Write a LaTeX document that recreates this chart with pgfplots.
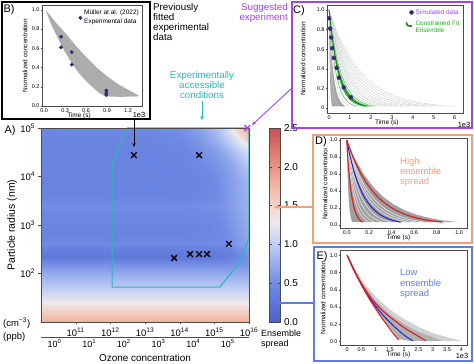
\documentclass[border=0pt]{standalone}
\usepackage{fontspec}
\setmainfont{Liberation Sans}
\usepackage{pgfplots}
\usepackage{pgfplotstable}
\pgfplotsset{compat=1.18}
\usetikzlibrary{arrows.meta}

\definecolor{cyanl}{RGB}{40,185,185}
\definecolor{purp}{RGB}{160,70,230}
\definecolor{orng}{RGB}{242,160,120}
\definecolor{blu}{RGB}{95,125,225}
\definecolor{navy}{RGB}{50,45,115}
\definecolor{grn}{RGB}{40,170,40}
\definecolor{frm}{RGB}{75,75,75}
\definecolor{rd}{RGB}{215,30,35}
\definecolor{bl}{RGB}{35,35,210}

\pgfplotsset{/pgf/number format/assume math mode=true}
\pgfplotsset{
 inset/.style={scale only axis, anchor=south west,
   axis line style={frm, line width=0.6pt},
   tick style={frm, line width=0.4pt},
   tick align=outside, major tick length=1.5bp, tick pos=left,
   ticklabel style={font=\fontsize{5.5}{6}\selectfont, inner sep=0.8pt},
   label style={font=\fontsize{6.5}{7.5}\selectfont, inner sep=0.5pt},
   legend cell align=left,
   legend style={draw=none, fill=none, font=\fontsize{6.5}{7.2}\selectfont, inner sep=0pt},
 }
}

% time (t) at which each decay curve reaches concentration level y
\pgfplotstableread{
y t015 t03 t05 t08 t10 t13 t16 t18 t20 t22 t25 t30 t35 t42 t50 t55 t60 t27 t32 t38 t46
1 0 0 0 0 0 0 0 0 0 0 0 0 0 0 0 0 0 0 0 0 0
0.8 0.0084 0.0168 0.028 0.0448 0.056 0.0728 0.0896 0.1008 0.112 0.1232 0.14 0.168 0.196 0.2352 0.28 0.308 0.336 0.1512 0.1792 0.2128 0.2576
0.6 0.0192 0.0384 0.064 0.1024 0.128 0.1664 0.2048 0.2304 0.256 0.2816 0.32 0.384 0.448 0.5376 0.64 0.704 0.768 0.3456 0.4096 0.4864 0.5888
0.45 0.03 0.06 0.1 0.16 0.2 0.26 0.32 0.36 0.4 0.44 0.5 0.6 0.7 0.84 1.0 1.1 1.2 0.54 0.64 0.76 0.92
0.33 0.0416 0.0831 0.1385 0.2216 0.277 0.3601 0.4432 0.4986 0.554 0.6094 0.6925 0.831 0.9695 1.1634 1.385 1.5235 1.662 0.7479 0.8864 1.0526 1.2742
0.24 0.0536 0.1071 0.1785 0.2856 0.357 0.4641 0.5712 0.6426 0.714 0.7854 0.8925 1.071 1.2495 1.4994 1.785 1.9635 2.142 0.9639 1.1424 1.3566 1.6422
0.17 0.0665 0.1329 0.2215 0.3544 0.443 0.5759 0.7088 0.7974 0.886 0.9746 1.1075 1.329 1.5505 1.8606 2.215 2.4365 2.658 1.1961 1.4176 1.6834 2.0378
0.12 0.0795 0.159 0.265 0.424 0.53 0.689 0.848 0.954 1.06 1.166 1.325 1.59 1.855 2.226 2.65 2.915 3.18 1.431 1.696 2.014 2.438
0.08 0.0947 0.1893 0.3155 0.5048 0.631 0.8203 1.0096 1.1358 1.262 1.3882 1.5775 1.893 2.2085 2.6502 3.155 3.4705 3.786 1.7037 2.0192 2.3978 2.9026
0.05 0.1124 0.2247 0.3745 0.5992 0.749 0.9737 1.1984 1.3482 1.498 1.6478 1.8725 2.247 2.6215 3.1458 3.745 4.1195 4.494 2.0223 2.3968 2.8462 3.4454
0.03 0.1316 0.2631 0.4385 0.7016 0.877 1.1401 1.4032 1.5786 1.754 1.9294 2.1925 2.631 3.0695 3.6834 4.385 4.8235 5.262 2.3679 2.8064 3.3326 4.0342
0.018 0.15 0.3 0.5 0.8 1.0 1.3 1.6 1.8 2.0 2.2 2.5 3.0 3.5 4.2 5.0 5.5 6.0 2.7 3.2 3.8 4.6
}\Ctab

\pgfplotstableread{
y d005 d014 d020 d025 d032 d040 d048 d055 d062 d070 d085 d100
1 0 0 0 0 0 0 0 0 0 0 0 0
0.8 0.0033 0.0092 0.0131 0.0164 0.021 0.0262 0.0315 0.0361 0.0407 0.0459 0.0558 0.0656
0.6 0.0075 0.021 0.03 0.0375 0.048 0.06 0.072 0.0825 0.093 0.105 0.128 0.15
0.45 0.0118 0.0329 0.047 0.0588 0.075 0.094 0.113 0.129 0.146 0.165 0.2 0.235
0.33 0.0163 0.0456 0.0652 0.0815 0.104 0.13 0.156 0.179 0.202 0.228 0.277 0.326
0.24 0.021 0.0588 0.084 0.105 0.134 0.168 0.202 0.231 0.26 0.294 0.357 0.42
0.17 0.026 0.0729 0.104 0.13 0.167 0.208 0.25 0.287 0.323 0.365 0.443 0.521
0.12 0.0312 0.0874 0.125 0.156 0.2 0.25 0.3 0.343 0.387 0.437 0.53 0.624
0.08 0.0372 0.104 0.149 0.186 0.238 0.297 0.357 0.409 0.461 0.52 0.632 0.743
0.055 0.0427 0.119 0.171 0.213 0.273 0.341 0.409 0.469 0.529 0.597 0.725 0.853
0.033 0.05 0.14 0.2 0.25 0.32 0.4 0.48 0.55 0.62 0.7 0.85 1.0
}\Dtab

\begin{document}
\begin{tikzpicture}
\useasboundingbox (0,0) rectangle (474bp,364bp);

% ---------- panel A: heat map ----------
\begin{axis}[name=main, at={(41bp,42bp)}, anchor=south west, scale only axis,
  width=208bp, height=194bp, xmin=10, xmax=16, ymin=1, ymax=5,
  view={0}{90}, clip=false, axis on top,
  axis line style={frm, line width=0.6pt}, tick style={frm},
  colormap={cw}{rgb255(0cm)=(75,95,205); rgb255(5cm)=(112,140,228); rgb255(10cm)=(192,206,245); rgb255(13cm)=(238,234,236); rgb255(17cm)=(242,190,170); rgb255(21cm)=(226,135,122); rgb255(25cm)=(200,80,85)},
  point meta min=0, point meta max=2.5,
  colorbar,
  colorbar style={at={(parent axis.north east)}, anchor=north west, xshift=12bp,
     width=11bp, scale only axis, ytick={0,0.5,1,1.5,2,2.5},
     yticklabel style={font=\fontsize{10}{12}\selectfont, /pgf/number format/.cd, fixed, fixed zerofill, precision=1},
     axis line style={frm, line width=0.6pt}, major tick length=2.5bp, tick style={frm}},
  xtick={11,12,13,14,15,16},
  xticklabels={10\textsuperscript{11},10\textsuperscript{12},10\textsuperscript{13},10\textsuperscript{14},10\textsuperscript{15},10\textsuperscript{16}},
  ytick={2,3,4,5},
  yticklabels={10\textsuperscript{2},10\textsuperscript{3},10\textsuperscript{4},10\textsuperscript{5}},
  tick pos=left, tick align=outside, major tick length=2.5bp,
  ticklabel style={font=\fontsize{9.5}{11}\selectfont},
  ylabel={Particle radius (nm)},
  ylabel style={font=\fontsize{10.5}{12}\selectfont, at={(axis description cs:-0.139,0.5)}, anchor=center},
]
\addplot3[surf, shader=interp, mesh/cols=9] table[row sep=\\] {
x y z\\
10 1 1.8\\ 13 1 1.8\\ 14 1 1.8\\ 14.5 1 1.8\\ 15 1 1.8\\ 15.25 1 1.8\\ 15.5 1 1.8\\ 15.75 1 1.8\\ 16 1 1.8\\
10 1.25 1.5\\ 13 1.25 1.5\\ 14 1.25 1.5\\ 14.5 1.25 1.5\\ 15 1.25 1.5\\ 15.25 1.25 1.5\\ 15.5 1.25 1.5\\ 15.75 1.25 1.5\\ 16 1.25 1.5\\
10 1.5 1.2\\ 13 1.5 1.2\\ 14 1.5 1.2\\ 14.5 1.5 1.2\\ 15 1.5 1.2\\ 15.25 1.5 1.2\\ 15.5 1.5 1.2\\ 15.75 1.5 1.2\\ 16 1.5 1.2\\
10 1.75 0.95\\ 13 1.75 0.95\\ 14 1.75 0.95\\ 14.5 1.75 0.95\\ 15 1.75 0.95\\ 15.25 1.75 0.95\\ 15.5 1.75 0.95\\ 15.75 1.75 0.95\\ 16 1.75 0.95\\
10 2 0.72\\ 13 2 0.72\\ 14 2 0.72\\ 14.5 2 0.72\\ 15 2 0.72\\ 15.25 2 0.72\\ 15.5 2 0.72\\ 15.75 2 0.72\\ 16 2 0.72\\
10 2.2 0.52\\ 13 2.2 0.52\\ 14 2.2 0.52\\ 14.5 2.2 0.52\\ 15 2.2 0.52\\ 15.25 2.2 0.52\\ 15.5 2.2 0.54\\ 15.75 2.2 0.56\\ 16 2.2 0.58\\
10 2.35 0.28\\ 13 2.35 0.28\\ 14 2.35 0.28\\ 14.5 2.35 0.28\\ 15 2.35 0.3\\ 15.25 2.35 0.33\\ 15.5 2.35 0.38\\ 15.75 2.35 0.46\\ 16 2.35 0.55\\
10 2.45 0.32\\ 13 2.45 0.32\\ 14 2.45 0.32\\ 14.5 2.45 0.32\\ 15 2.45 0.33\\ 15.25 2.45 0.36\\ 15.5 2.45 0.41\\ 15.75 2.45 0.5\\ 16 2.45 0.6\\
10 2.6 0.48\\ 13 2.6 0.48\\ 14 2.6 0.48\\ 14.5 2.6 0.48\\ 15 2.6 0.49\\ 15.25 2.6 0.51\\ 15.5 2.6 0.55\\ 15.75 2.6 0.62\\ 16 2.6 0.68\\
10 2.8 0.42\\ 13 2.8 0.42\\ 14 2.8 0.42\\ 14.5 2.8 0.43\\ 15 2.8 0.45\\ 15.25 2.8 0.48\\ 15.5 2.8 0.55\\ 15.75 2.8 0.64\\ 16 2.8 0.72\\
10 3 0.42\\ 13 3 0.42\\ 14 3 0.42\\ 14.5 3 0.43\\ 15 3 0.46\\ 15.25 3 0.5\\ 15.5 3 0.58\\ 15.75 3 0.67\\ 16 3 0.75\\
10 3.25 0.46\\ 13 3.25 0.46\\ 14 3.25 0.46\\ 14.5 3.25 0.47\\ 15 3.25 0.5\\ 15.25 3.25 0.54\\ 15.5 3.25 0.62\\ 15.75 3.25 0.7\\ 16 3.25 0.77\\
10 3.4 0.5\\ 13 3.4 0.5\\ 14 3.4 0.5\\ 14.5 3.4 0.51\\ 15 3.4 0.53\\ 15.25 3.4 0.57\\ 15.5 3.4 0.64\\ 15.75 3.4 0.72\\ 16 3.4 0.78\\
10 3.6 0.42\\ 13 3.6 0.42\\ 14 3.6 0.42\\ 14.5 3.6 0.44\\ 15 3.6 0.48\\ 15.25 3.6 0.54\\ 15.5 3.6 0.63\\ 15.75 3.6 0.72\\ 16 3.6 0.79\\
10 3.8 0.4\\ 13 3.8 0.4\\ 14 3.8 0.41\\ 14.5 3.8 0.43\\ 15 3.8 0.48\\ 15.25 3.8 0.55\\ 15.5 3.8 0.64\\ 15.75 3.8 0.73\\ 16 3.8 0.81\\
10 4 0.4\\ 13 4 0.4\\ 14 4 0.41\\ 14.5 4 0.44\\ 15 4 0.5\\ 15.25 4 0.57\\ 15.5 4 0.66\\ 15.75 4 0.76\\ 16 4 0.85\\
10 4.25 0.4\\ 13 4.25 0.4\\ 14 4.25 0.42\\ 14.5 4.25 0.46\\ 15 4.25 0.55\\ 15.25 4.25 0.62\\ 15.5 4.25 0.72\\ 15.75 4.25 0.84\\ 16 4.25 0.97\\
10 4.5 0.4\\ 13 4.5 0.41\\ 14 4.5 0.44\\ 14.5 4.5 0.5\\ 15 4.5 0.62\\ 15.25 4.5 0.72\\ 15.5 4.5 0.85\\ 15.75 4.5 1.0\\ 16 4.5 1.15\\
10 4.75 0.42\\ 13 4.75 0.43\\ 14 4.75 0.48\\ 14.5 4.75 0.57\\ 15 4.75 0.75\\ 15.25 4.75 0.9\\ 15.5 4.75 1.08\\ 15.75 4.75 1.3\\ 16 4.75 1.55\\
10 5 0.45\\ 13 5 0.47\\ 14 5 0.53\\ 14.5 5 0.65\\ 15 5 0.85\\ 15.25 5 1.05\\ 15.5 5 1.3\\ 15.75 5 1.65\\ 16 5 2.05\\
};
\addplot[cyanl, line width=1.1pt] coordinates {(12.48,5)(16,5)(16,2.73)(15.74,2.24)(15.16,1.72)(12.05,1.72)(12.05,4.24)(12.48,5)};
\addplot[only marks, mark=x, mark size=4bp, line width=1.3pt, black] coordinates {(12.68,4.44)(14.56,4.44)(13.84,2.32)(14.30,2.40)(14.56,2.40)(14.79,2.40)(15.42,2.61)};
\addplot[only marks, mark=x, mark size=4.2bp, line width=1.4pt, purp] coordinates {(15.95,5)};
\end{axis}

% ---------- ppb axis ----------
\begin{axis}[at={(41bp,27bp)}, anchor=south west, scale only axis, width=208bp, height=4bp,
  xmin=-0.39, xmax=5.61, ymin=0, ymax=1,
  axis lines*=left, y axis line style={draw=none}, ytick=\empty,
  x axis line style={frm, line width=0.6pt}, tick style={frm},
  xtick={0,1,2,3,4,5},
  xticklabels={10\textsuperscript{0},10\textsuperscript{1},10\textsuperscript{2},10\textsuperscript{3},10\textsuperscript{4},10\textsuperscript{5}},
  tick align=outside, major tick length=1.5bp,
  ticklabel style={font=\fontsize{9}{10}\selectfont, inner sep=1pt},
  xlabel={Ozone concentration},
  xlabel style={font=\fontsize{10}{11}\selectfont, at={(axis description cs:0.5,0)}, anchor=center, yshift=-21bp},
]
\addplot[draw=none, forget plot] coordinates {(0,0.5)(5,0.5)};
\end{axis}

% ---------- panel B ----------
\begin{axis}[inset, at={(42bp,258bp)}, width=100bp, height=101bp,
  xmin=-0.03, xmax=1.4, ymin=0, ymax=1.05,
  xtick={0,0.3,0.6,0.9,1.2}, xticklabels={0.0,0.3,0.6,0.9,1.2},
  ytick={0,0.2,0.4,0.6,0.8,1}, yticklabels={0.0,0.2,0.4,0.6,0.8,1.0},
  xlabel={Time (s)}, ylabel={Normalized concentration},
  xlabel style={at={(axis description cs:0.37,0)}, anchor=north, yshift=-6.5bp},
  ylabel style={at={(axis description cs:-0.17,0.5)}, anchor=center},
  legend style={at={(axis description cs:0.99,0.97)}, anchor=north east},
]
\addlegendimage{only marks, mark=*, mark size=1.8bp, navy}
\addlegendentry{\shortstack[l]{Müller at al. (2022)\\Experimental data}}
\addplot[fill=gray!65, draw=none, forget plot] coordinates {(0.02,1.0)(0.1,0.93)(0.2,0.84)(0.3,0.76)(0.45,0.63)(0.6,0.51)(0.75,0.40)(0.9,0.31)(1.05,0.23)(1.2,0.17)(1.35,0.11)
  (1.35,0.1)(1.1,0.095)(0.88,0.1)(0.8,0.13)(0.7,0.19)(0.6,0.26)(0.5,0.34)(0.4,0.44)(0.3,0.56)(0.2,0.7)(0.1,0.85)(0.02,1.0)};
\addplot[only marks, mark=*, mark size=1.8bp, navy, forget plot] coordinates {(0.243,0.72)(0.243,0.61)(0.395,0.56)(0.395,0.43)(0.89,0.16)(0.89,0.135)(0.89,0.115)};
\end{axis}

% ---------- panel C ----------
\begin{axis}[inset, at={(327bp,251bp)}, width=136bp, height=108bp,
  xmin=-0.1, xmax=6.4, ymin=-0.05, ymax=1.05,
  xtick={0,1,2,3,4,5,6},
  ytick={0,0.2,0.4,0.6,0.8,1}, yticklabels={0,0.2,0.4,0.6,0.8,1.0},
  xlabel={Time (s)}, ylabel={Normalized concentration},
  xlabel style={at={(axis description cs:0.44,0)}, anchor=north, yshift=-6.5bp},
  ylabel style={at={(axis description cs:-0.176,0.5)}, anchor=center},
  legend style={at={(axis description cs:0.99,0.98)}, anchor=north east, row sep=1pt},
]
\addlegendimage{only marks, mark=*, mark size=2bp, navy}
\addlegendentry{\textcolor{purp}{Simulated data}}
\addlegendimage{legend image code/.code={\draw[grn!75!black, line width=1.6pt] (0.12cm,0.18cm) arc[start angle=180, end angle=290, radius=0.14cm];}}
\addlegendentry{\textcolor{grn}{\shortstack[l]{Constrained Fit\\Ensemble}}}
\addplot[fill=gray!70, draw=none, forget plot] coordinates {(0,1)(0.0448,0.8)(0.1024,0.6)(0.16,0.45)(0.2216,0.33)(0.2856,0.24)(0.3544,0.17)(0.424,0.12)(0.5048,0.08)(0.5992,0.05)(0.7016,0.03)(0.8,0.018)
  (0.15,0.018)(0.1316,0.03)(0.1124,0.05)(0.0947,0.08)(0.0795,0.12)(0.0665,0.17)(0.0536,0.24)(0.0416,0.33)(0.03,0.45)(0.0192,0.6)(0.0084,0.8)(0,1)};
\pgfplotsinvokeforeach{t03,t05,t10,t13,t16,t18,t20,t22,t25,t27,t30,t32,t35,t38,t42,t46,t50,t55,t60}{
  \addplot[gray!40, line width=0.35pt, smooth, forget plot] table[x=#1, y=y] {\Ctab};
}
\addplot[fill=grn, fill opacity=0.85, draw=none, forget plot] coordinates {(0,1)(0.112,0.8)(0.256,0.6)(0.4,0.45)(0.554,0.33)(0.714,0.24)(0.886,0.17)(1.06,0.12)(1.262,0.08)(1.498,0.05)(1.754,0.03)(2.0,0.018)
  (1.6,0.018)(1.4032,0.03)(1.1984,0.05)(1.0096,0.08)(0.848,0.12)(0.7088,0.17)(0.5712,0.24)(0.4432,0.33)(0.32,0.45)(0.2048,0.6)(0.0896,0.8)(0,1)};
\addplot[green!55!black!60, line width=0.5pt, smooth, forget plot] table[x=t13, y=y] {\Ctab};
\addplot[green!55!black!60, line width=0.5pt, smooth, forget plot] table[x=t22, y=y] {\Ctab};
\addplot[green!50!black, line width=0.6pt, smooth, forget plot] table[x=t18, y=y] {\Ctab};
\addplot[only marks, mark=*, mark size=2bp, navy, forget plot] coordinates {(0,0.915)(0.05,0.81)(0.1,0.72)(0.15,0.61)(0.23,0.51)(0.36,0.41)(0.47,0.31)(0.7,0.21)(1.04,0.11)};
\end{axis}

% ---------- panel D ----------
\begin{axis}[inset, at={(340bp,136bp)}, width=127bp, height=90bp,
  xmin=-0.06, xmax=1.07, ymin=-0.035, ymax=1.024,
  xtick={0,0.2,0.4,0.6,0.8,1}, xticklabels={0.0,0.2,0.4,0.6,0.8,1.0},
  ytick={0,0.2,0.4,0.6,0.8,1}, yticklabels={0.0,0.2,0.4,0.6,0.8,1.0},
  xlabel={Time (s)}, ylabel={Normalized concentration},
  xlabel style={at={(axis description cs:0.46,0)}, anchor=north, yshift=-6.5bp},
  ylabel style={at={(axis description cs:-0.118,0.5)}, anchor=center},
]
\addplot[fill=gray!75, draw=none] coordinates {(0,1)(0.0656,0.8)(0.15,0.6)(0.235,0.45)(0.326,0.33)(0.42,0.24)(0.521,0.17)(0.624,0.12)(0.743,0.08)(0.853,0.055)(1.0,0.033)
  (0.05,0.033)(0.0427,0.055)(0.0372,0.08)(0.0312,0.12)(0.026,0.17)(0.021,0.24)(0.0163,0.33)(0.0118,0.45)(0.0075,0.6)(0.0033,0.8)(0,1)};
\pgfplotsinvokeforeach{d020,d025,d032,d040,d055,d062,d070}{
  \addplot[gray!25, line width=0.7pt, smooth] table[x=#1, y=y] {\Dtab};
}
\addplot[bl, line width=1pt, smooth] table[x=d048, y=y] {\Dtab};
\addplot[rd, line width=1.1pt, smooth] table[x=d014, y=y] {\Dtab};
\addplot[rd, line width=1.1pt, smooth] table[x=d085, y=y] {\Dtab};
\end{axis}

% ---------- panel E ----------
\begin{axis}[inset, at={(340bp,19bp)}, width=127bp, height=95bp,
  xmin=-0.25, xmax=4.2, ymin=-0.04, ymax=1.06,
  xtick={0,0.5,1,1.5,2,2.5,3,3.5,4},
  ytick={0,0.2,0.4,0.6,0.8,1}, yticklabels={0.0,0.2,0.4,0.6,0.8,1.0},
  xlabel={Time (s)}, ylabel={Normalized concentration},
  xlabel style={at={(axis description cs:0.46,0)}, anchor=north, yshift=-6.5bp},
  ylabel style={at={(axis description cs:-0.134,0.5)}, anchor=center},
]
\addplot[fill=gray!35, draw=none] coordinates {(0,1)(0.3,0.82)(0.6,0.67)(1.0,0.52)(1.5,0.37)(2.0,0.26)(2.5,0.17)(3.0,0.1)(3.5,0.05)(4.0,0.01)
  (4.0,0.005)(3.0,0.006)(2.2,0.008)(1.8,0.03)(1.6,0.12)(1.3,0.25)(1.0,0.38)(0.6,0.58)(0.3,0.78)(0,1)};
\addplot[fill=gray!62, draw=none] coordinates {(0,1)(0.3,0.81)(0.6,0.64)(1.0,0.47)(1.5,0.31)(2.0,0.2)(2.5,0.11)(3.0,0.05)(3.3,0.01)
  (3.0,0.006)(2.2,0.008)(1.8,0.03)(1.6,0.12)(1.3,0.25)(1.0,0.38)(0.6,0.58)(0.3,0.78)(0,1)};
\addplot[bl, line width=1pt, smooth] coordinates {(0,1)(0.2,0.85)(0.4,0.72)(0.6,0.6)(0.8,0.5)(1.0,0.41)(1.3,0.29)(1.6,0.19)(1.9,0.1)(2.1,0.05)(2.3,0.01)};
\addplot[rd, line width=1.1pt, smooth] coordinates {(0,1)(0.2,0.85)(0.4,0.72)(0.6,0.6)(0.8,0.48)(1.0,0.38)(1.2,0.28)(1.4,0.19)(1.6,0.1)(1.8,0.02)};
\addplot[rd, line width=1.1pt, smooth] coordinates {(0,1)(0.2,0.86)(0.4,0.73)(0.6,0.62)(0.8,0.52)(1.0,0.44)(1.3,0.34)(1.6,0.26)(2.0,0.16)(2.4,0.08)(2.75,0.01)};
\end{axis}

% ---------- frames, connectors, annotations ----------
\draw[black, line width=1.3pt] (2bp,245bp) rectangle (150bp,362bp);
\draw[purp, line width=1.3pt] (292bp,236bp) rectangle (472bp,362bp);
\draw[orng, line width=1.3pt] (313bp,121bp) rectangle (472bp,229bp);
\draw[blu, line width=1.3pt] (314bp,3bp) rectangle (472bp,117bp);

\draw[black, line width=0.8pt, -{Stealth[length=4bp,width=3.5bp]}] (134bp,245bp) -- (134bp,217bp);
\draw[purp, line width=0.9pt, -{Stealth[length=4bp,width=3.5bp]}] (292bp,276bp) -- (252bp,239bp);
\draw[orng, line width=1.2pt, -{Stealth[length=4.5bp,width=4bp]}] (313bp,157bp) -- (274bp,157bp);
\draw[blu, line width=1.2pt, -{Stealth[length=4.5bp,width=4bp]}] (314bp,61bp) -- (274bp,61bp);
\draw[cyanl, line width=0.9pt, -{Stealth[length=4bp,width=3.5bp]}] (202bp,263bp) -- (202bp,244bp);

\node[anchor=center, font=\fontsize{11}{12}\selectfont] at (10bp,233bp) {A)};
\node[anchor=center, font=\fontsize{11}{12}\selectfont] at (9bp,354bp) {B)};
\node[anchor=center, font=\fontsize{11}{12}\selectfont] at (299bp,353bp) {C)};
\node[anchor=center, font=\fontsize{11}{12}\selectfont, fill=white, inner sep=0.5pt] at (321bp,222bp) {D)};
\node[anchor=center, font=\fontsize{11}{12}\selectfont] at (322bp,107bp) {E)};

\node[anchor=north west, align=left, font=\fontsize{9.8}{10}\selectfont, inner sep=0pt] at (153bp,361bp) {Previously\\fitted\\experimental\\data};
\node[anchor=north east, align=right, text=purp, font=\fontsize{9.8}{10}\selectfont, inner sep=0pt] at (288bp,361bp) {Suggested\\experiment};
\node[anchor=north, align=center, text=cyanl, font=\fontsize{9.8}{10}\selectfont, inner sep=0pt] at (202bp,293bp) {Experimentally\\accessible\\conditions};
\node[anchor=north west, align=left, text=orng, font=\fontsize{9.5}{10.5}\selectfont, inner sep=0pt] at (400bp,207bp) {High\\ensemble\\spread};
\node[anchor=north west, align=left, text=blu, font=\fontsize{9.5}{10.5}\selectfont, inner sep=0pt] at (400bp,95bp) {Low\\ensemble\\spread};
\node[anchor=north west, align=left, font=\fontsize{9}{10}\selectfont, inner sep=0pt] at (261bp,34bp) {Ensemble\\spread};
\node[anchor=west, font=\fontsize{9.5}{11}\selectfont, inner sep=0pt] at (3bp,41bp) {(cm\textsuperscript{−3})};
\node[anchor=west, font=\fontsize{9.5}{11}\selectfont, inner sep=0pt] at (3bp,27bp) {(ppb)};
\node[anchor=center, font=\fontsize{7.5}{8}\selectfont] at (139bp,249bp) {1e3};
\node[anchor=center, font=\fontsize{7.5}{8}\selectfont] at (464bp,239bp) {1e3};
\node[anchor=center, font=\fontsize{7.5}{8}\selectfont] at (462bp,8bp) {1e3};
\end{tikzpicture}
\end{document}
